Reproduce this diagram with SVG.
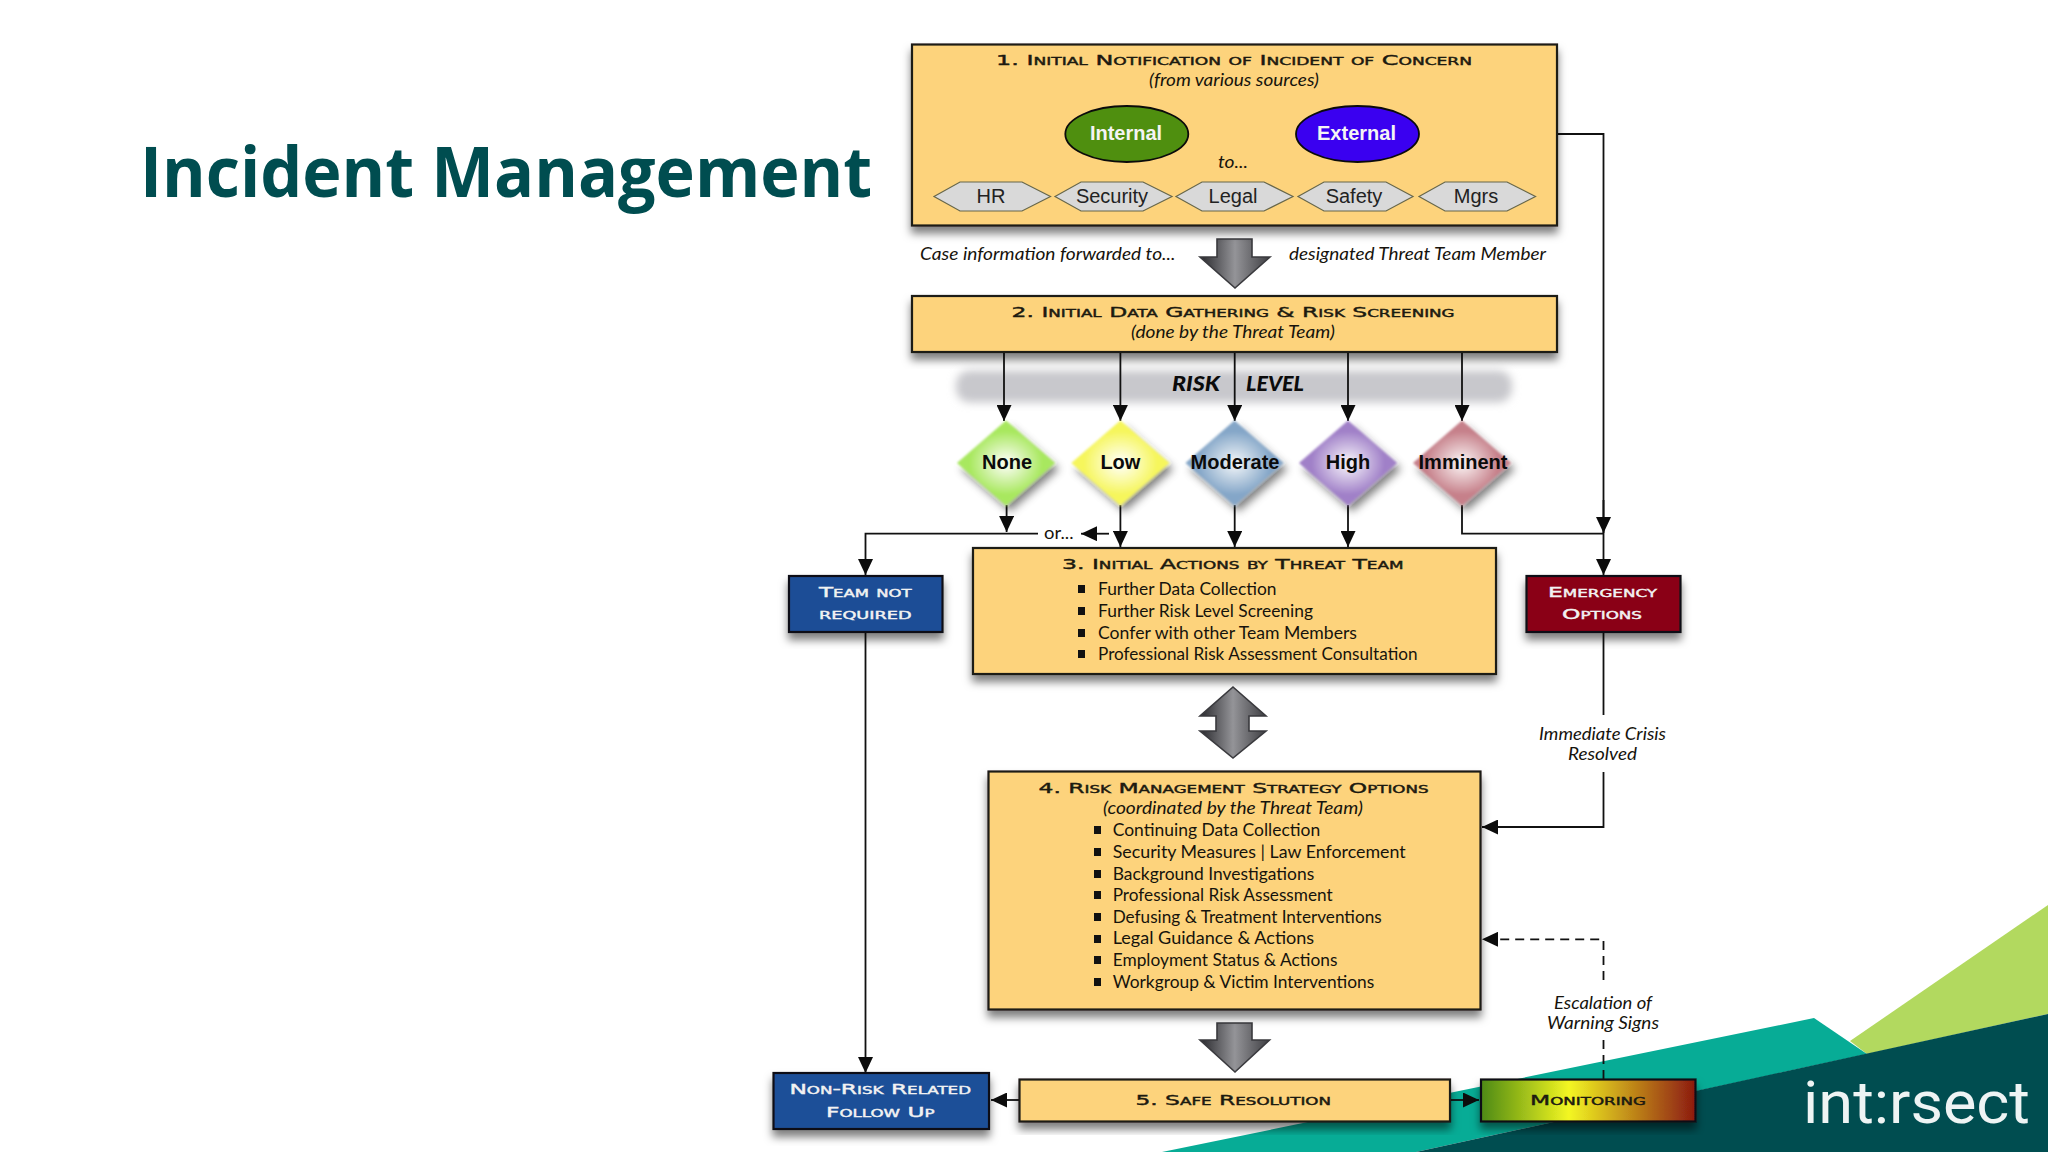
<svg xmlns="http://www.w3.org/2000/svg" width="2048" height="1152" viewBox="0 0 2048 1152">
<style>
.box{fill:#fdd37c;stroke:#1c1a16;stroke-width:2.2}
.dark{stroke:#0d0d14;stroke-width:2.2}
.line{fill:none;stroke:#111;stroke-width:1.8}
.dash{stroke-dasharray:9 6}
.head{font-family:"DejaVu Sans","Liberation Sans",sans-serif;font-variant:small-caps;font-weight:400;font-size:14px;fill:#1c1a10;stroke:#1c1a10;stroke-width:.4}
.wh{fill:#f2f2f2;stroke:#f2f2f2}
.it{font-family:"Lato","Liberation Sans",sans-serif;font-style:italic;font-size:16.5px;fill:#16130c;transform:translateY(1px)}
.li{font-family:"Lato","Liberation Sans",sans-serif;font-size:16.5px;fill:#16130c;transform:translateY(1px)}
.ar{font-family:"Liberation Sans",Arial,sans-serif;font-size:20px;text-anchor:middle;fill:#222}
.ab{font-family:"Liberation Sans",Arial,sans-serif;font-size:20px;font-weight:700;text-anchor:middle;fill:#0b0b0b}
.hex{fill:#d9d9d9;stroke:#66664a;stroke-width:1.2}
.bl{fill:#111}
.ba{fill:url(#steel);stroke:#3a3a3e;stroke-width:1.6}
</style>
<defs>
<filter id="sh" x="-10%" y="-20%" width="120%" height="150%"><feDropShadow dx="0" dy="7" stdDeviation="4.5" flood-color="#000" flood-opacity=".5"/></filter>
<filter id="shd" x="-30%" y="-30%" width="170%" height="170%"><feGaussianBlur in="SourceAlpha" stdDeviation="4" result="a"/><feOffset in="a" dx="4" dy="6" result="b"/><feFlood flood-color="#000" flood-opacity=".5"/><feComposite in2="b" operator="in" result="c"/><feGaussianBlur in="SourceGraphic" stdDeviation=".8" result="s"/><feMerge><feMergeNode in="c"/><feMergeNode in="s"/></feMerge></filter>
<filter id="blur" x="-5%" y="-40%" width="110%" height="180%"><feGaussianBlur stdDeviation="4"/></filter>
<linearGradient id="steel"><stop offset="0" stop-color="#28282c"/><stop offset=".5" stop-color="#949498"/><stop offset="1" stop-color="#3e3e42"/></linearGradient>
<linearGradient id="mon"><stop offset="0" stop-color="#4d8a12"/><stop offset=".41" stop-color="#f3f622"/><stop offset="1" stop-color="#8c1a10"/></linearGradient>
<radialGradient id="d1"><stop offset=".1" stop-color="#f4fbe8"/><stop offset=".75" stop-color="#a8e85e"/></radialGradient>
<radialGradient id="d2"><stop offset=".1" stop-color="#fefee8"/><stop offset=".75" stop-color="#f6f65c"/></radialGradient>
<radialGradient id="d3"><stop offset=".1" stop-color="#e6edf3"/><stop offset=".75" stop-color="#84a6c8"/></radialGradient>
<radialGradient id="d4"><stop offset=".1" stop-color="#eee8f5"/><stop offset=".75" stop-color="#a080c8"/></radialGradient>
<radialGradient id="d5"><stop offset=".1" stop-color="#f5e8e9"/><stop offset=".75" stop-color="#c6808a"/></radialGradient>
<marker id="arr" markerUnits="userSpaceOnUse" markerWidth="17" markerHeight="15" refX="16" refY="7.5" orient="auto"><path d="M0 0L16 7.5L0 15Z" fill="#0c0c0c"/></marker>
</defs>
<rect width="2048" height="1152" fill="#fff"/>
<g id="background">
<polygon points="1850,1041 2048,905 2048,1014 1867,1054" fill="#b2d95f"/>
<polygon points="1162,1152 1814,1018 1867,1054 1416,1152" fill="#07ac96"/>
<polygon points="1416,1152 2048,1014 2048,1152" fill="#004d50"/>
</g>
<text id="title" x="140" y="197" font-family="'Open Sans','Noto Sans',sans-serif" font-weight="700" font-size="70" fill="#004d50" textLength="732" lengthAdjust="spacingAndGlyphs">Incident Management</text>
<text id="logo" x="1803" y="1123" font-family="Roboto,sans-serif" font-weight="400" font-size="60" fill="#eef4f4" textLength="227" lengthAdjust="spacingAndGlyphs">int:rsect</text>
<g id="band"><rect x="956" y="370.500" width="556" height="32" rx="14" fill="#c8c8cc" filter="url(#blur)"/>
<text x="1172" y="391" font-family="Lato,'Liberation Sans',sans-serif" font-weight="900" font-style="italic" font-size="20" fill="#0b0b0b" textLength="48" lengthAdjust="spacingAndGlyphs">RISK</text>
<text x="1246" y="391" font-family="Lato,'Liberation Sans',sans-serif" font-weight="900" font-style="italic" font-size="20" fill="#0b0b0b" textLength="58" lengthAdjust="spacingAndGlyphs">LEVEL</text></g>
<g id="connectors">
<path class="line" d="M1557 134H1603.5V575" marker-end="url(#arr)"/>
<path class="line" d="M1603.5 500V533" marker-end="url(#arr)"/>
<path class="line" d="M1004 352V421" marker-end="url(#arr)"/>
<path class="line" d="M1120.4 352V421" marker-end="url(#arr)"/>
<path class="line" d="M1234.7 352V421" marker-end="url(#arr)"/>
<path class="line" d="M1348 352V421" marker-end="url(#arr)"/>
<path class="line" d="M1462 352V421" marker-end="url(#arr)"/>
<path class="line" d="M1006.6 505V532" marker-end="url(#arr)"/>
<path class="line" d="M1038 533.7H865.5V575" marker-end="url(#arr)"/>
<path class="line" d="M1109 533.7H1081" marker-end="url(#arr)"/>
<path class="line" d="M1120.4 505V547" marker-end="url(#arr)"/>
<path class="line" d="M1234.7 505V547" marker-end="url(#arr)"/>
<path class="line" d="M1348 505V547" marker-end="url(#arr)"/>
<path class="line" d="M1462 505V533.7H1603.5"/>
<path class="line" d="M865.5 632V1073" marker-end="url(#arr)"/>
<path class="line" d="M1603.5 632V715"/>
<path class="line" d="M1603.5 772V827H1482" marker-end="url(#arr)"/>
<path class="line dash" d="M1603.5 980V939.3H1482" marker-end="url(#arr)"/>
<path class="line dash" d="M1603.5 1079V1040"/>
<path class="line" d="M1020 1100H991" marker-end="url(#arr)"/>
<path class="line" d="M1450 1100H1479" marker-end="url(#arr)"/>
<polygon class="ba" points="1217,239 1252,239 1252,257 1270,257 1235,288 1200,257 1217,257"/>
<polygon class="ba" points="1233,687 1266,716 1249,716 1249,731 1266,731 1233,758 1200,731 1216,731 1216,716 1200,716"/>
<polygon class="ba" points="1217,1023 1252,1023 1252,1040 1269.5,1040 1235,1072 1200,1040 1217,1040"/>
<text class="it" x="920" y="259" textLength="255.500" lengthAdjust="spacingAndGlyphs">Case information forwarded to...</text>
<text class="it" x="1289" y="259" textLength="257" lengthAdjust="spacingAndGlyphs">designated Threat Team Member</text>
<text class="li" x="1044" y="537.500" textLength="29.500" lengthAdjust="spacingAndGlyphs">or...</text>
<text class="it" x="1539" y="739" textLength="127" lengthAdjust="spacingAndGlyphs">Immediate Crisis</text>
<text class="it" x="1568" y="759" textLength="69" lengthAdjust="spacingAndGlyphs">Resolved</text>
<text class="it" x="1554" y="1008" textLength="98" lengthAdjust="spacingAndGlyphs">Escalation of</text>
<text class="it" x="1547" y="1028" textLength="112" lengthAdjust="spacingAndGlyphs">Warning Signs</text>
</g>
<g id="node-1">
<rect class="box" x="912" y="44.500" width="645" height="181" filter="url(#sh)"/>
<text class="head" x="996" y="65" textLength="476" lengthAdjust="spacingAndGlyphs">1. Initial Notification of Incident of Concern</text>
<text class="it" x="1149" y="85" textLength="170" lengthAdjust="spacingAndGlyphs">(from various sources)</text>
<ellipse cx="1126.800" cy="134" rx="61.500" ry="28" fill="#4f8f0f" stroke="#0b0b0b" stroke-width="1.800"/>
<text class="ab" x="1126" y="140" style="fill:#f4f4f4">Internal</text>
<ellipse cx="1357.500" cy="134" rx="61.500" ry="28" fill="#3a00f0" stroke="#0b0b0b" stroke-width="1.800"/>
<text class="ab" x="1356.500" y="140" style="fill:#f4f4f4">External</text>
<text class="it" x="1218" y="167" textLength="30" lengthAdjust="spacingAndGlyphs">to...</text>
<polygon class="hex" points="934,196.500 960,182 1022,182 1050.500,196.500 1022,211 960,211"/><text class="ar" x="991" y="203">HR</text>
<polygon class="hex" points="1055,196.500 1081,182 1143,182 1172,196.500 1143,211 1081,211"/><text class="ar" x="1112" y="203">Security</text>
<polygon class="hex" points="1176,196.500 1202,182 1264,182 1293,196.500 1264,211 1202,211"/><text class="ar" x="1233" y="203">Legal</text>
<polygon class="hex" points="1298,196.500 1324,182 1386,182 1413,196.500 1386,211 1324,211"/><text class="ar" x="1354" y="203">Safety</text>
<polygon class="hex" points="1419,196.500 1445,182 1507,182 1535.500,196.500 1507,211 1445,211"/><text class="ar" x="1476" y="203">Mgrs</text>
</g>
<g id="node-2">
<rect class="box" x="912" y="296" width="645" height="56" filter="url(#sh)"/>
<text class="head" x="1011.600" y="317" textLength="443" lengthAdjust="spacingAndGlyphs">2. Initial Data Gathering &amp; Risk Screening</text>
<text class="it" x="1131" y="337" textLength="204" lengthAdjust="spacingAndGlyphs">(done by the Threat Team)</text>
</g>
<g id="risk-none"><polygon points="1006,420.500 1055,463 1006,505.500 957,463" fill="url(#d1)" filter="url(#shd)"/><text class="ab" x="1007" y="469">None</text></g>
<g id="risk-low"><polygon points="1120.400,420.500 1169.400,463 1120.400,505.500 1071.400,463" fill="url(#d2)" filter="url(#shd)"/><text class="ab" x="1120.400" y="469">Low</text></g>
<g id="risk-moderate"><polygon points="1234.500,420.500 1283.500,463 1234.500,505.500 1185.500,463" fill="url(#d3)" filter="url(#shd)"/><text class="ab" x="1235" y="469">Moderate</text></g>
<g id="risk-high"><polygon points="1348,420.500 1397,463 1348,505.500 1299,463" fill="url(#d4)" filter="url(#shd)"/><text class="ab" x="1348" y="469">High</text></g>
<g id="risk-imminent"><polygon points="1462,420.500 1511,463 1462,505.500 1413,463" fill="url(#d5)" filter="url(#shd)"/><text class="ab" x="1463" y="469">Imminent</text></g>
<g id="team-not-required">
<rect class="dark" x="789" y="576" width="153.500" height="56" fill="#1f4e96" filter="url(#sh)"/>
<text class="head wh" x="819" y="596.500" textLength="92.500" lengthAdjust="spacingAndGlyphs">Team not</text>
<text class="head wh" x="819" y="619" textLength="92.500" lengthAdjust="spacingAndGlyphs">required</text>
</g>
<g id="node-3">
<rect class="box" x="973" y="548" width="523" height="126" filter="url(#sh)"/>
<text class="head" x="1062" y="569" textLength="341.500" lengthAdjust="spacingAndGlyphs">3. Initial Actions by Threat Team</text>
<rect class="bl" x="1078" y="585" width="7" height="8"/><text class="li" x="1098" y="594.300" textLength="178.500" lengthAdjust="spacingAndGlyphs">Further Data Collection</text>
<rect class="bl" x="1078" y="607" width="7" height="8"/><text class="li" x="1098" y="616" textLength="215" lengthAdjust="spacingAndGlyphs">Further Risk Level Screening</text>
<rect class="bl" x="1078" y="629" width="7" height="8"/><text class="li" x="1098" y="637.700" textLength="259" lengthAdjust="spacingAndGlyphs">Confer with other Team Members</text>
<rect class="bl" x="1078" y="650" width="7" height="8"/><text class="li" x="1098" y="659.300" textLength="319.500" lengthAdjust="spacingAndGlyphs">Professional Risk Assessment Consultation</text>
</g>
<g id="emergency-options">
<rect class="dark" x="1526.500" y="576" width="154" height="56" fill="#8a0012" filter="url(#sh)"/>
<text class="head wh" x="1548" y="596.500" textLength="109" lengthAdjust="spacingAndGlyphs">Emergency</text>
<text class="head wh" x="1562" y="619" textLength="80" lengthAdjust="spacingAndGlyphs">Options</text>
</g>
<g id="node-4">
<rect class="box" x="988.500" y="771.500" width="492" height="238" filter="url(#sh)"/>
<text class="head" x="1038.600" y="792.700" textLength="390" lengthAdjust="spacingAndGlyphs">4. Risk Management Strategy Options</text>
<text class="it" x="1103" y="813" textLength="260" lengthAdjust="spacingAndGlyphs">(coordinated by the Threat Team)</text>
<rect class="bl" x="1094" y="826" width="7" height="8"/><text class="li" x="1112.700" y="834.700" textLength="207.500" lengthAdjust="spacingAndGlyphs">Continuing Data Collection</text>
<rect class="bl" x="1094" y="848" width="7" height="8"/><text class="li" x="1112.700" y="856.700" textLength="293" lengthAdjust="spacingAndGlyphs">Security Measures | Law Enforcement</text>
<rect class="bl" x="1094" y="870" width="7" height="8"/><text class="li" x="1112.700" y="878.700" textLength="201.500" lengthAdjust="spacingAndGlyphs">Background Investigations</text>
<rect class="bl" x="1094" y="891" width="7" height="8"/><text class="li" x="1112.700" y="900" textLength="220" lengthAdjust="spacingAndGlyphs">Professional Risk Assessment</text>
<rect class="bl" x="1094" y="913" width="7" height="8"/><text class="li" x="1112.700" y="921.700" textLength="269" lengthAdjust="spacingAndGlyphs">Defusing &amp; Treatment Interventions</text>
<rect class="bl" x="1094" y="935" width="7" height="8"/><text class="li" x="1112.700" y="943.300" textLength="201.500" lengthAdjust="spacingAndGlyphs">Legal Guidance &amp; Actions</text>
<rect class="bl" x="1094" y="956" width="7" height="8"/><text class="li" x="1112.700" y="965" textLength="224.700" lengthAdjust="spacingAndGlyphs">Employment Status &amp; Actions</text>
<rect class="bl" x="1094" y="978" width="7" height="8"/><text class="li" x="1112.700" y="987.300" textLength="261.500" lengthAdjust="spacingAndGlyphs">Workgroup &amp; Victim Interventions</text>
</g>
<g id="node-5">
<rect class="box" x="1019.500" y="1079.500" width="430.500" height="42" filter="url(#sh)"/>
<text class="head" x="1135.400" y="1105" textLength="195.600" lengthAdjust="spacingAndGlyphs">5. Safe Resolution</text>
</g>
<g id="non-risk-follow-up">
<rect class="dark" x="773.500" y="1073" width="215.500" height="56" fill="#1f4f98" filter="url(#sh)"/>
<text class="head wh" x="789.400" y="1093.700" textLength="181.600" lengthAdjust="spacingAndGlyphs">Non-Risk Related</text>
<text class="head wh" x="826" y="1117" textLength="108.500" lengthAdjust="spacingAndGlyphs">Follow Up</text>
</g>
<g id="monitoring">
<rect class="dark" x="1481" y="1079.500" width="214.500" height="42" fill="url(#mon)" filter="url(#sh)"/>
<text class="head" x="1530" y="1105" textLength="116" lengthAdjust="spacingAndGlyphs">Monitoring</text>
</g>
</svg>
